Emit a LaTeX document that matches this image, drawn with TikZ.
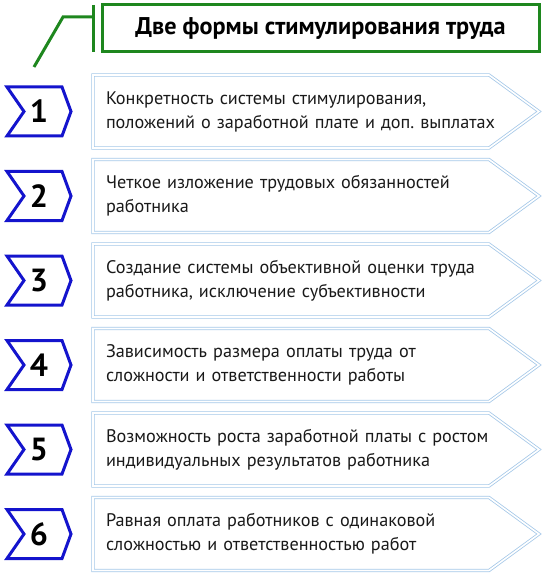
\documentclass[tikz,border=0pt]{standalone}
\usepackage{fontspec}
\setmainfont{PT Sans}
\usetikzlibrary{positioning}
\definecolor{titlegreen}{RGB}{30, 135, 30}
\definecolor{numblue}{RGB}{20, 20, 205}
\definecolor{boxblue}{RGB}{165, 200, 232}
\definecolor{bodytext}{RGB}{25, 25, 25}
\tikzset{
    titlebox/.style={rectangle, draw=titlegreen, line width=3pt, minimum width=437pt, minimum height=47pt, align=center, inner sep=0pt, outer sep=0pt, font=\fontsize{24.2}{28}\selectfont\bfseries},
    greenline/.style={titlegreen, line width=3pt},
    stepbox/.style={rectangle, text width=420pt, inner xsep=13pt, inner ysep=0pt, minimum height=73pt, align=left, text=bodytext, outer sep=0pt, font=\fontsize{18.2}{24}\selectfont},
    stepline/.style={draw=boxblue, line width=0.8pt, double=white, double distance=1.6pt},
    numbox/.style={rectangle, minimum width=64pt, minimum height=49pt, inner sep=0pt, outer sep=0pt, font=\fontsize{32}{32}\selectfont\bfseries},
    numline/.style={numblue, line width=3pt, line join=miter}
}
\begin{document}
\begin{tikzpicture}[x=1pt, y=-1pt, node distance=11.5pt and 22pt]
    \useasboundingbox (0,0) rectangle (550,577);
    \node (title) [titlebox] at (320.5,28.5) {Две формы стимулирования труда};
    \coordinate (bartop) at ([xshift=-9pt]title.north west);
    \coordinate (barbottom) at ([xshift=-9pt]title.south west);
    \coordinate (bend) at (63,17);
    \coordinate (tail) at (34,67);
    \draw [greenline] (bartop) -- (barbottom);
    \draw [greenline] (tail) -- (bend) -- (bend -| bartop);

    \node (step1) [stepbox, anchor=west] at (93,111.5) {Конкретность системы стимулирования,\\положений о заработной плате и доп.\ выплатах};
    \node (step2) [stepbox, below=of step1] {Четкое изложение трудовых обязанностей\\работника};
    \node (step3) [stepbox, below=of step2] {Создание системы объективной оценки труда\\работника, исключение субъективности};
    \node (step4) [stepbox, below=of step3] {Зависимость размера оплаты труда от\\сложности и ответственности работы};
    \node (step5) [stepbox, below=of step4] {Возможность роста заработной платы с ростом\\индивидуальных результатов работника};
    \node (step6) [stepbox, below=of step5] {Равная оплата работников с одинаковой\\сложностью и ответственностью работ};

    \node (num1) [numbox, left=of step1] {1};
    \node (num2) [numbox, left=of step2] {2};
    \node (num3) [numbox, left=of step3] {3};
    \node (num4) [numbox, left=of step4] {4};
    \node (num5) [numbox, left=of step5] {5};
    \node (num6) [numbox, left=of step6] {6};

    \foreach \s in {1,...,6} {
        \draw [stepline] (step\s.north west) -- ([xshift=-50pt]step\s.north east) -- (step\s.east) -- ([xshift=-50pt]step\s.south east) -- (step\s.south west) -- cycle;
        \draw [numline] (num\s.north west) -- ([xshift=-9pt]num\s.north east) -- (num\s.east) -- ([xshift=-9pt]num\s.south east) -- (num\s.south west) -- ([xshift=17pt]num\s.west) -- cycle;
    }
\end{tikzpicture}
\end{document}
